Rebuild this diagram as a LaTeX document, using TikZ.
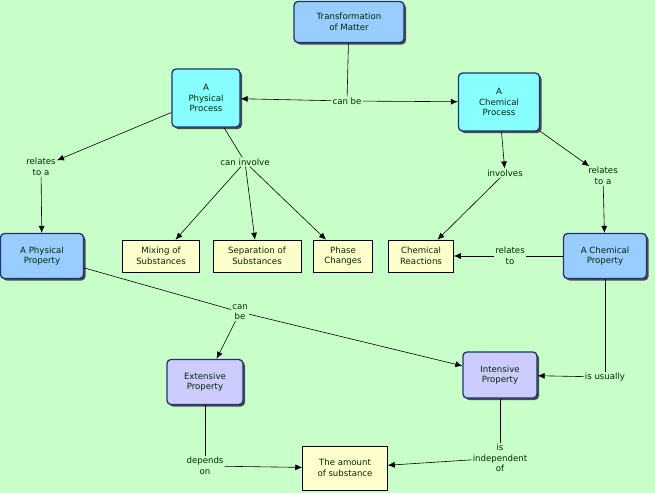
\documentclass[tikz,border=0pt]{standalone}
\usepackage{fontspec}
\setmainfont{DejaVu Sans}
\usetikzlibrary{arrows.meta,shadows}
\definecolor{bg}{RGB}{200,255,200}
\definecolor{bluebox}{RGB}{153,204,255}
\definecolor{cyanbox}{RGB}{136,255,255}
\definecolor{lavbox}{RGB}{204,204,255}
\definecolor{yelbox}{RGB}{255,255,204}
\definecolor{bord}{RGB}{30,50,120}
\definecolor{txt}{RGB}{0,40,0}
\begin{document}
\begin{tikzpicture}[x=1pt,y=-1pt,font=\fontsize{8.6}{10.5}\selectfont,
  base/.style={align=center,inner sep=2pt,text=txt},
  rnd/.style={base,draw=bord,line width=1.3pt,rounded corners=4pt,drop shadow={shadow xshift=2pt,shadow yshift=-2pt,fill=black!70,opacity=1}},
  blue/.style={rnd,fill=bluebox},
  cyanb/.style={rnd,fill=cyanbox},
  lav/.style={rnd,fill=lavbox},
  yel/.style={base,draw=black,line width=0.5pt,fill=yelbox},
  lab/.style={base,fill=bg,inner sep=1pt},
  arr/.style={-{Latex[length=7pt,width=6pt]},line width=0.6pt},
  ln/.style={line width=0.6pt}]
\fill[bg] (0,0) rectangle (655,493);
\useasboundingbox (0,0) rectangle (655,493);
\node[blue,minimum width=110pt,minimum height=41pt] (tm) at (349,22) {Transformation\\of Matter};
\node[cyanb,minimum width=68pt,minimum height=58pt] (pp) at (206,98) {A\\Physical\\Process};
\node[cyanb,minimum width=81pt,minimum height=58pt] (cp) at (499,102) {A\\Chemical\\Process};
\node[blue,minimum width=83pt,minimum height=45pt] (pprop) at (42,256) {A Physical\\Property};
\node[blue,minimum width=83pt,minimum height=45pt] (cprop) at (605,256) {A Chemical\\Property};
\node[yel,minimum width=77pt,minimum height=32pt] (mix) at (161,256) {Mixing of\\Substances};
\node[yel,minimum width=88pt,minimum height=32pt] (sep) at (257,256) {Separation of\\Substances};
\node[yel,minimum width=59pt,minimum height=32pt] (pc) at (343,256) {Phase\\Changes};
\node[yel,minimum width=65pt,minimum height=32pt] (cr) at (421,256) {Chemical\\Reactions};
\node[lav,minimum width=76pt,minimum height=45pt] (ext) at (205,382) {Extensive\\Property};
\node[lav,minimum width=74pt,minimum height=46pt] (int) at (500,375) {Intensive\\Property};
\node[yel,minimum width=85pt,minimum height=44pt] (amt) at (345,468) {The amount\\of substance};
\node[lab] (canbe) at (347,101) {can be};
\node[lab] (rel1) at (41,167) {relates\\to a};
\node[lab] (caninv) at (245,162) {can involve};
\node[lab] (inv) at (505,173) {involves};
\node[lab] (rel2) at (603,176) {relates\\to a};
\node[lab] (relto) at (510,256) {relates\\to};
\node[lab] (canbe2) at (240,312) {can\\be};
\node[lab] (usu) at (605,377) {is usually};
\node[lab] (dep) at (205,466) {depends\\on};
\node[lab] (indep) at (500,458) {is\\independent\\of};
\draw[ln] (tm) -- (canbe);
\draw[arr] (canbe) -- (pp);
\draw[arr] (canbe) -- (cp);
\draw[arr] (pp) -- (rel1);
\draw[arr] (rel1) -- (pprop);
\draw[ln] (pp) -- (caninv);
\draw[arr] (caninv) -- (mix);
\draw[arr] (caninv) -- (sep);
\draw[arr] (caninv) -- (pc);
\draw[arr] (cp) -- (inv);
\draw[arr] (inv) -- (cr);
\draw[arr] (cp) -- (rel2);
\draw[arr] (rel2) -- (cprop);
\draw[ln] (cprop) -- (relto);
\draw[arr] (relto) -- (cr);
\draw[ln] (pprop) -- (canbe2);
\draw[arr] (canbe2) -- (ext);
\draw[arr] (canbe2) -- (int);
\draw[ln] (cprop) -- (usu);
\draw[arr] (usu) -- (int);
\draw[ln] (ext) -- (dep);
\draw[arr] (dep) -- (amt);
\draw[ln] (int) -- (indep);
\draw[arr] (indep) -- (amt);
\end{tikzpicture}
\end{document}
